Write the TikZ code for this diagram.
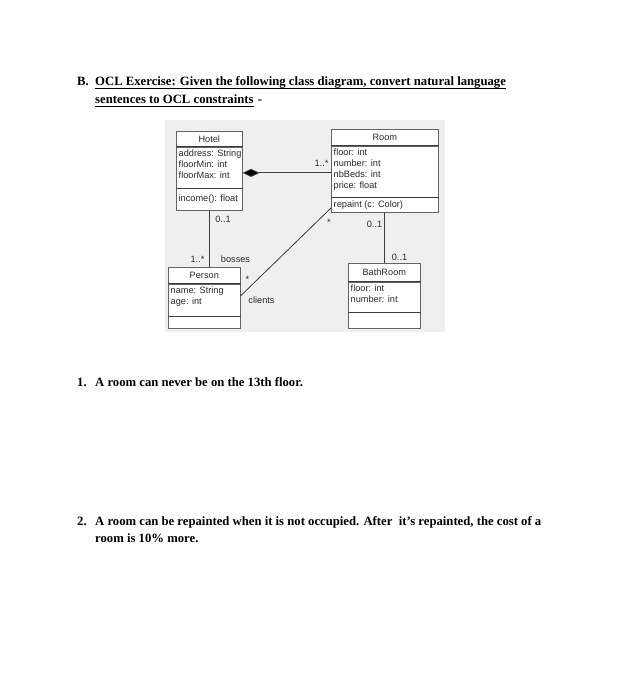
\documentclass[tikz,border=0pt]{standalone}
\usepackage{fontspec}
\setmainfont{Liberation Serif}
\setsansfont{Liberation Sans}
\usetikzlibrary{arrows.meta,positioning}

\definecolor{panelgray}{HTML}{EFEFEF}
\definecolor{umlline}{HTML}{3C3C3C}
\definecolor{umlink}{HTML}{2A2A2A}

% one class box: id, top-left, width, three part heights, name, attributes, operations
\newcommand{\umlclass}[9]{%
  \node[umlpart,minimum width=#3,minimum height=#4] (#1) at #2 {};
  \node[umlpart,minimum width=#3,minimum height=#5,below=0pt of #1.south west,anchor=north west] (#1-attr) {};
  \node[umlpart,minimum width=#3,minimum height=#6,below=0pt of #1-attr.south west,anchor=north west] (#1-ops) {};
  \draw[umlsep] (#1.south west) -- (#1.south east);
  \draw[umlsep] (#1-attr.south west) -- (#1-attr.south east);
  \node[umlname] (#1-name) at (#1.center) {#7};
  \node[umltext,anchor=north west] (#1-attrs) at (#1-attr.north west) {#8};
  \node[umltext,anchor=west] (#1-opss) at (#1-ops.west) {#9};
}

\begin{document}
\begin{tikzpicture}[x=1pt,y=-1pt,
  umlpart/.style={draw=umlline!80,line width=0.6pt,fill=white,anchor=north west,inner sep=0pt},
  umlsep/.style={draw=umlline,line width=1.1pt},
  umlname/.style={font=\sffamily\fontsize{9.2}{10}\selectfont,text=umlink,inner sep=0pt},
  umltext/.style={font=\sffamily\fontsize{9.2}{11}\selectfont,text=umlink,align=left,inner xsep=2.5pt,inner ysep=3pt},
  mult/.style={font=\sffamily\fontsize{9.2}{10}\selectfont,text=umlink,inner sep=0pt},
  assoc/.style={draw=umlline,line width=0.8pt},
  bodytext/.style={font=\bfseries\fontsize{12.7}{14}\selectfont,inner sep=0pt,anchor=base west},
  uline/.style={line width=0.7pt}]
  \useasboundingbox (0,0) rectangle (619,700);

  % heading
  \node[bodytext] (b-lbl) at (77,86) {B.};
  \node[bodytext] (b-l1) at (95,86) {OCL Exercise: Given the following class diagram, convert natural language};
  \node[bodytext] (b-l2) at (95,104) {sentences to OCL constraints};
  \node[bodytext] (b-dash) at ([xshift=4pt]b-l2.base east) {-};
  \draw[uline] ([yshift=-2pt]b-l1.base west) -- ([yshift=-2pt]b-l1.base east);
  \draw[uline] ([yshift=-2pt]b-l2.base west) -- ([yshift=-2pt]b-l2.base east);

  % class diagram
  \fill[panelgray] (165,120) rectangle (445,332);
  \umlclass{hotel}{(176,131)}{66pt}{15pt}{41pt}{22pt}{Hotel}{address: String\\floorMin: int\\floorMax: int}{income(): float}
  \umlclass{room}{(331,129)}{107pt}{16pt}{51pt}{15pt}{Room}{floor: int\\number: int\\nbBeds: int\\price: float}{repaint (c: Color)}
  \umlclass{person}{(168,267)}{72pt}{16pt}{32pt}{12pt}{Person}{name: String\\age: int}{}
  \umlclass{bath}{(348,263)}{72pt}{18pt}{30pt}{16pt}{BathRoom}{floor: int\\number: int}{}

  \coordinate (hdiam) at ([yshift=-5.5pt]hotel-attr.east);
  \draw[assoc,{Diamond[length=17pt,width=8pt,fill=black]}-] (hdiam) -- (hdiam -| room-attr.west);
  \draw[assoc] (hotel-ops.south) -- (hotel-ops.south |- person.north);
  \draw[assoc] (room-ops.south) -- (room-ops.south |- bath.north);
  \draw[assoc] ([yshift=4pt]person-attr.east) -- ([yshift=-3pt]room-ops.west);

  \node[mult] (m-room) at (321.5,163) {1..*};
  \node[mult] (m-hotel) at (223,219) {0..1};
  \node[mult] (m-boss) at (197.5,259) {1..*};
  \node[mult] (r-boss) at (235.5,259) {bosses};
  \node[mult] (m-client) at (247.5,279) {*};
  \node[mult] (r-client) at (261.5,300) {clients};
  \node[mult] (m-rclient) at (329,222) {*};
  \node[mult] (m-rbath) at (374.5,224) {0..1};
  \node[mult] (m-bath) at (399.5,257) {0..1};

  % questions
  \node[bodytext] (q1-lbl) at (77,386) {1.};
  \node[bodytext] (q1) at (95,386) {A room can never be on the 13th floor.};
  \node[bodytext] (q2-lbl) at (77,525) {2.};
  \node[bodytext] (q2a) at (95,525) {A room can be repainted when it is not occupied. After\ \ it’s repainted, the cost of a};
  \node[bodytext] (q2b) at (95,542) {room is 10\% more.};
\end{tikzpicture}
\end{document}
